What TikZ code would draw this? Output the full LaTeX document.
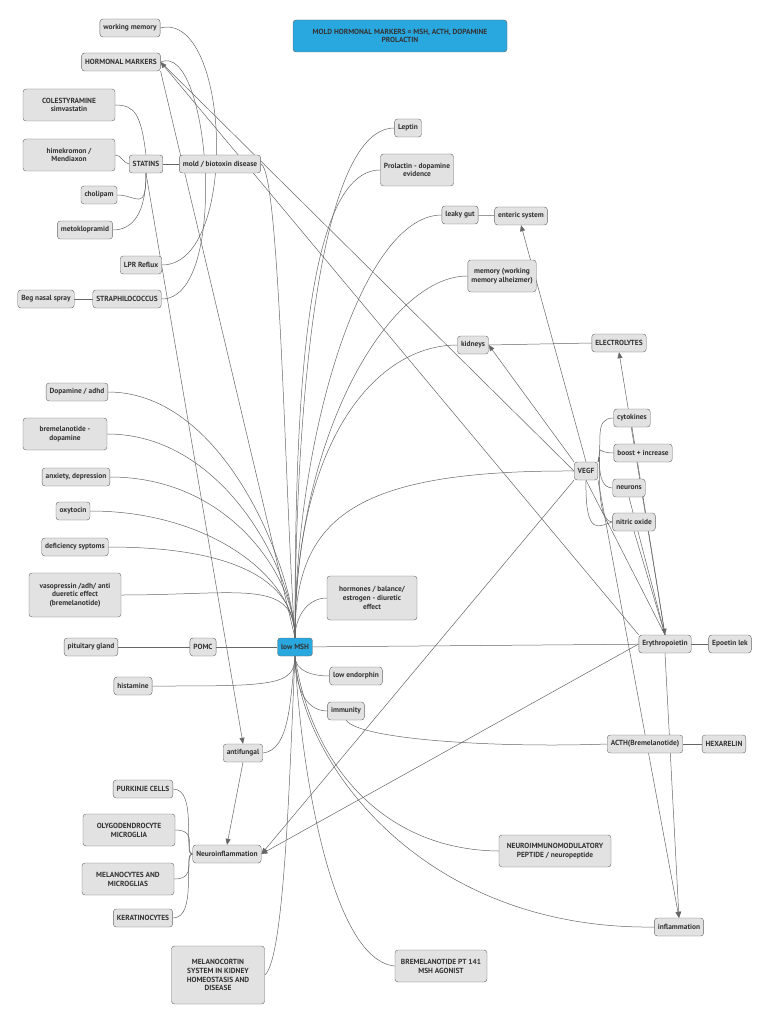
\documentclass[tikz,border=0pt]{standalone}
\usepackage{fontspec}
\setmainfont{PT Sans}
\usetikzlibrary{arrows.meta,backgrounds}
\definecolor{boxg}{HTML}{E2E2E2}
\definecolor{cy}{HTML}{29A8E0}
\begin{document}
\begin{tikzpicture}[x=1pt,y=-1pt,
 bx/.style={draw=black!60,fill=boxg,rounded corners=3pt,font=\fontsize{7.4}{8.8}\selectfont\bfseries,text=black!80,align=center,inner sep=3.5pt,minimum height=18pt},
 cb/.style={bx,fill=cy},
 ln/.style={draw=black!60,line width=0.5pt},
 ar/.style={ln,-{Triangle[length=6pt,width=5pt]}}]
\useasboundingbox (0,0) rectangle (768,1024);
\node[cb,minimum width=214pt,minimum height=32pt] (title) at (400,36) {MOLD HORMONAL MARKERS = MSH, ACTH, DOPAMINE\\PROLACTIN};
\node[bx] (wm) at (130,28) {working memory};
\node[bx] (hm) at (121,62) {HORMONAL MARKERS};
\node[bx,minimum width=92pt,minimum height=32pt] (col) at (69,105) {COLESTYRAMINE\\simvastatin};
\node[bx,minimum width=92pt,minimum height=32pt] (him) at (69,155) {himekromon /\\Mendiaxon};
\node[bx] (sta) at (146,164) {STATINS};
\node[bx] (mold) at (220,164) {mold / biotoxin disease};
\node[bx] (cho) at (99,195) {cholipam};
\node[bx] (met) at (85,230) {metoklopramid};
\node[bx] (lpr) at (141,265) {LPR Reflux};
\node[bx] (beg) at (46,299) {Beg nasal spray};
\node[bx] (str) at (127,299) {STRAPHILOCOCCUS};
\node[bx] (lep) at (408,128) {Leptin};
\node[bx,minimum height=32pt] (pro) at (417,170) {Prolactin - dopamine\\evidence};
\node[bx] (leak) at (460,215) {leaky gut};
\node[bx] (ent) at (521,216) {enteric system};
\node[bx,minimum height=32pt] (mem) at (502,276) {memory (working\\memory alheizmer)};
\node[bx] (kid) at (473,345) {kidneys};
\node[bx] (ele) at (619,343) {ELECTROLYTES};
\node[bx] (cyt) at (632,418) {cytokines};
\node[bx] (boo) at (643,453) {boost + increase};
\node[bx] (vegf) at (586,471) {VEGF};
\node[bx] (neu) at (629,488) {neurons};
\node[bx] (nit) at (634,522) {nitric oxide};
\node[bx] (dop) at (77,392) {Dopamine / adhd};
\node[bx,minimum width=84pt,minimum height=32pt] (bre) at (65,434) {bremelanotide -\\dopamine};
\node[bx] (anx) at (76,477) {anxiety, depression};
\node[bx] (oxy) at (73,511) {oxytocin};
\node[bx] (def) at (75,547) {deficiency syptoms};
\node[bx,minimum width=92pt,minimum height=44pt] (vas) at (75,595) {vasopressin /adh/ anti\\dueretic effect\\(bremelanotide)};
\node[bx,minimum width=90pt,minimum height=44pt] (hor) at (372,598) {hormones / balance/\\estrogen - diuretic\\effect};
\node[bx] (pit) at (91,647) {pituitary gland};
\node[bx] (pomc) at (203,647) {POMC};
\node[cb] (msh) at (295,647) {low MSH};
\node[bx] (ery) at (665,644) {Erythropoietin};
\node[bx] (epo) at (730,644) {Epoetin lek};
\node[bx] (his) at (133,686) {histamine};
\node[bx] (end) at (356,676) {low endorphin};
\node[bx] (imm) at (346,711) {immunity};
\node[bx] (acth) at (645,744) {ACTH(Bremelanotide)};
\node[bx] (hex) at (724,744) {HEXARELIN};
\node[bx] (anti) at (243,753) {antifungal};
\node[bx] (pur) at (143,789) {PURKINJE CELLS};
\node[bx,minimum width=92pt,minimum height=32pt] (oly) at (129,830) {OLYGODENDROCYTE\\MICROGLIA};
\node[bx] (ni) at (227,854) {Neuroinflammation};
\node[bx,minimum width=92pt,minimum height=32pt] (mel) at (128,879) {MELANOCYTES AND\\MICROGLIAS};
\node[bx] (ker) at (143,918) {KERATINOCYTES};
\node[bx,minimum width=112pt,minimum height=32pt] (nim) at (555,851) {NEUROIMMUNOMODULATORY\\PEPTIDE / neuropeptide};
\node[bx] (inf) at (679,927) {inflammation};
\node[bx,minimum width=93pt,minimum height=58pt] (mc) at (218,975) {MELANOCORTIN\\SYSTEM IN KIDNEY\\HOMEOSTASIS AND\\DISEASE};
\node[bx,minimum width=92pt,minimum height=32pt] (bpt) at (441,966) {BREMELANOTIDE PT 141\\MSH AGONIST};
\begin{scope}[on background layer]
% statins group
\draw[ln] (sta) -- (mold);
\foreach \n in {cho,met} \draw[ln] (sta.south) .. controls +(0,40) and +(20,0) .. (\n.east);
\draw[ln] (sta.north) .. controls +(-5,-40) and +(20,0) .. (col.east);
\draw[ln] (sta.west) to[out=170,in=0] (him.east);
\draw[ln] (beg) -- (str);
\draw[ln] (leak) -- (ent);
\draw[ln] (wm.east) .. controls (230,10) and (240,265) .. (lpr.east);
\draw[ln] (hm.east) .. controls (210,40) and (230,300) .. (str.east);
\draw[ar] (ery.north west) -- (hm.east);
\draw[ln] (vegf.west) -- (hm.east);
\draw[ln] (hm.south east) -- (msh.north);
\draw[ar] (sta.south) -- (anti.north);
\draw[ln] (mold.east) .. controls (280,170) and (285,500) .. (msh.north);
% msh fan left
\foreach \n in {dop,bre,anx,oxy,def,vas} \draw[ln] (\n.east) .. controls +(120,0) and +(0,-60) .. (msh.north);
\draw[ln] (his.east) .. controls +(120,0) and +(0,30) .. (msh.south);
\draw[ln] (pit) -- (pomc) -- (msh);
% msh fan right up
\foreach \n in {lep,pro,leak,mem,kid} \draw[ln] (\n.west) .. controls +(-80,0) and +(0,-200) .. (msh.north);
\draw[ln] (vegf.west) .. controls (350,470) and (295,520) .. (msh.north);
\draw[ln] (hor.west) .. controls +(-20,0) and +(0,-20) .. (msh.north);
\draw[ln] (msh) -- (ery);
\draw[ln] (end.west) to[out=180,in=-90] (msh.south);
\draw[ln] (imm.west) to[out=180,in=-90] (msh.south);
\draw[ln] (imm.south) .. controls (360,740) and (500,748) .. (acth.west);
\draw[ln] (anti.east) .. controls (290,750) and (290,700) .. (msh.south);
\draw[ln] (nim.west) .. controls (380,850) and (310,760) .. (msh.south);
\draw[ln] (inf.west) .. controls (420,930) and (300,760) .. (msh.south);
\draw[ln] (bpt.west) .. controls (330,960) and (300,760) .. (msh.south);
\draw[ln] (mc.east) .. controls (285,960) and (290,760) .. (msh.south);
% neuroinflammation
\draw[ar] (anti.south) -- (ni.north);
\foreach \n in {pur,oly,mel,ker} \draw[ln] (\n.east) .. controls +(25,0) and +(-10,0) .. (ni.west);
\draw[ar] (vegf.south west) -- (ni.east);
\draw[ar] (ery.west) -- (ni.east);
% VEGF group
\draw[ar] (vegf.north west) -- (kid.east);
\draw[ln] (kid.east) -- (ele.west);
\draw[ar] (vegf.north) -- (ent.south);
\foreach \n in {cyt,boo,neu,nit} \draw[ln] (vegf.north east) .. controls +(5,-20) and +(-20,0) .. (\n.west);
\draw[ln] (vegf.south) .. controls (585,540) and (600,525) .. (nit.west);
\draw[ar] (ery.north) -- (ele.south);
\draw[ar] (cyt.south) -- (ery.north);
\draw[ln] (neu.south) -- (ery.north);
\draw[ln] (nit.south) -- (ery.north);
\draw[ln] (vegf.south) -- (ery.north);
\draw[ar] (ery.south) -- (inf.north);
\draw[ar] (vegf.south east) -- (inf.north);
\draw[ln] (ery) -- (epo);
\draw[ln] (acth) -- (hex);
\end{scope}
\end{tikzpicture}
\end{document}
